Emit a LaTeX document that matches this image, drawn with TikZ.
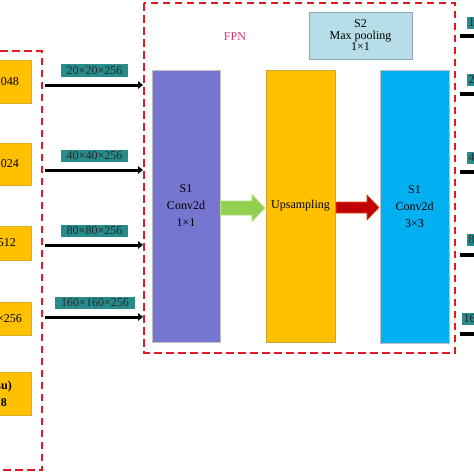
\documentclass[tikz,border=0pt]{standalone}
\usepackage{fontspec}
\setmainfont{Liberation Serif}
\usetikzlibrary{calc,arrows.meta}
\definecolor{dashred}{RGB}{226,24,36}
\definecolor{ayellow}{RGB}{255,192,0}
\definecolor{apurple}{RGB}{118,118,208}
\definecolor{ablue}{RGB}{0,176,240}
\definecolor{alight}{RGB}{183,222,232}
\definecolor{ateal}{RGB}{40,140,140}
\definecolor{apink}{RGB}{222,50,110}
\definecolor{agreen}{RGB}{146,208,80}
\definecolor{ared}{RGB}{192,0,0}
\begin{document}
\begin{tikzpicture}[x=1pt,y=-1pt,
  dashbox/.style={draw=dashred,line width=2.3pt,dash pattern=on 7.5pt off 4.5pt},
  bbox/.style={fill=ayellow,draw=ayellow!70!gray,line width=0.5pt,inner sep=0pt,
    font=\fontsize{12}{17}\selectfont,align=center},
  colbox/.style={draw=gray!50,line width=0.5pt,inner sep=0pt,minimum width=68pt,
    minimum height=272pt,font=\fontsize{12}{17}\selectfont,align=center},
  tlabel/.style={fill=ateal,inner xsep=6pt,inner ysep=1pt,minimum height=12.5pt,
    font=\fontsize{12}{12}\selectfont,text=black!85},
  rlabel/.style={fill=ateal,inner xsep=1.5pt,inner ysep=1pt,minimum height=12pt,
    minimum width=30pt,font=\fontsize{12}{12}\selectfont,text=black!85,anchor=west,align=left},
  feat/.style={line width=3pt,-{Triangle[length=5pt,width=7.5pt]}},
  outl/.style={line width=3.2pt}
]
\useasboundingbox (0,0) rectangle (474,474);

% dashed group frames
\draw[dashbox] (-10,51) rectangle (42,470);
\draw[dashbox] (144,3) rectangle (455,353);

% backbone boxes (cut by the left edge, as in the reference)
\node[bbox,minimum width=86pt,minimum height=43pt] (b1) at (-12,81.5) {20×20×2048};
\node[bbox,minimum width=86pt,minimum height=42pt] (b2) at (-12,164) {40×40×1024};
\node[bbox,minimum width=86pt,minimum height=34pt] (b3) at (-12,243) {80×80×512};
\node[bbox,minimum width=86pt,minimum height=33pt] (b4) at (-12,318.5) {160×160×256};
\node[bbox,minimum width=104pt,minimum height=43pt] (b5) at (-21,393.5) {\bfseries Focus (SiLu)\\\bfseries 640×640×8};

% FPN
\node[text=apink,font=\fontsize{12}{12}\selectfont] (fpn) at (235,37) {FPN};
\node[fill=alight,draw=gray!60!alight,line width=0.6pt,minimum width=103pt,minimum height=47pt,
  inner sep=0pt,align=center,font=\fontsize{12}{11.5}\selectfont] (s2) at (360.5,35.5)
  {S2\\Max pooling\\1×1};
\node[colbox,fill=apurple] (conv1) at (186,206) {S1\\Conv2d\\1×1};
\node[colbox,fill=ayellow,draw=ayellow!60!gray,minimum width=69pt] (up) at (300.5,206) {Upsampling};
\node[colbox,fill=ablue,minimum width=69pt,minimum height=273pt] (conv3) at (414.5,206.5) {S1\\Conv2d\\3×3};

% block arrows between the columns
\coordinate (ga) at (220.5,208);
\fill[agreen,draw=agreen!70!white,line width=0.6pt] (ga) ++(0,-7) -- ++(31.5,0) -- ++(0,-6.5)
  -- ++(13,13.5) -- ++(-13,13.5) -- ++(0,-6.5) -- ++(-31.5,0) -- cycle;
\coordinate (ra) at (336,207.5);
\fill[ared,draw=orange!60!ared,line width=0.6pt] (ra) ++(0,-5.5) -- ++(31,0) -- ++(0,-7)
  -- ++(12,12.5) -- ++(-12,12.5) -- ++(0,-7) -- ++(-31,0) -- cycle;

% input feature arrows
\foreach \i/\y in {1/85,2/170,3/245,4/317}{
  \coordinate (s\i) at (45,\y);
  \coordinate (e\i) at (143,\y);
  \draw[feat] (s\i) -- (e\i);
}
\node[tlabel] (l1) at (94.5,70.5) {20×20×256};
\node[tlabel] (l2) at (94.5,156) {40×40×256};
\node[tlabel] (l3) at (94.5,231) {80×80×256};
\node[tlabel] (l4) at (95,303) {160×160×256};

% output arrows (cut by the right edge)
\foreach \i/\y in {1/36,2/94,3/172,4/255,5/334}{
  \coordinate (os\i) at (460,\y);
  \coordinate (oe\i) at (480,\y);
  \draw[outl] (os\i) -- (oe\i);
}
\node[rlabel] (r1) at (467,22.5) {10×10×256};
\node[rlabel] (r2) at (467,79.5) {20×20×256};
\node[rlabel] (r3) at (467,157.5) {40×40×256};
\node[rlabel] (r4) at (467,239.5) {80×80×256};
\node[rlabel] (r5) at (462,319) {160×160×256};
\end{tikzpicture}
\end{document}
